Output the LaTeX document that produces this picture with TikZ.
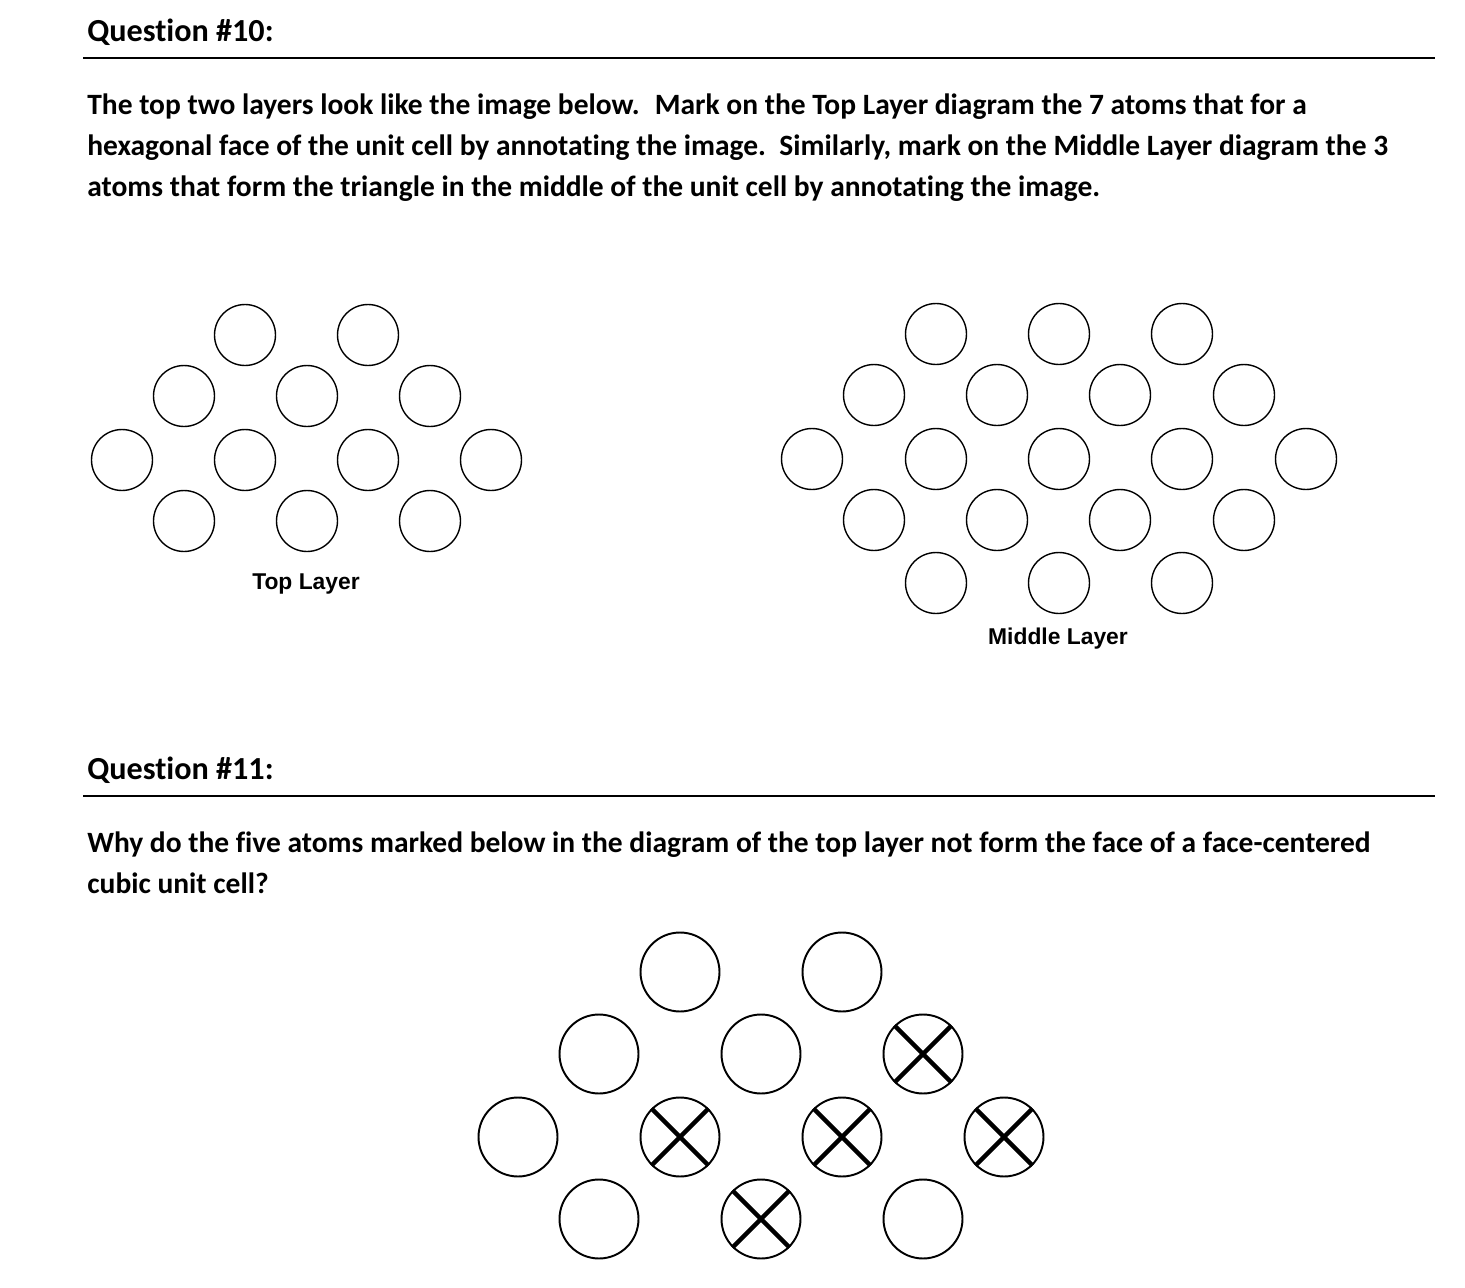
\documentclass[tikz,border=0pt]{standalone}
\usepackage{fontspec}
\setmainfont[RawFeature={-liga;-clig}]{Carlito}
\newfontfamily\labelfont{Liberation Sans}
\tikzset{
atom/.style={circle, draw, line width=0.8pt, inner sep=0pt, minimum size=1.22cm},
bigatom/.style={circle, draw, line width=1.1pt, inner sep=0pt, minimum size=1.58cm},
heading/.style={anchor=base west, inner sep=0pt, font=\fontsize{18.3}{22}\selectfont\bfseries},
bodytext/.style={anchor=base west, inner sep=0pt, font=\fontsize{16.78}{20}\selectfont\bfseries},
layerlabel/.style={anchor=base, inner sep=0pt, font=\fontsize{13}{15}\selectfont\labelfont\bfseries},
crossline/.style={line width=2.6pt}
}
\begin{document}
\begin{tikzpicture}[x=0.02cm, y=-0.02cm]
\useasboundingbox (0,0) rectangle (1465,1288);
\node[heading] (q10) at (87,41) {Question \#10:};
\coordinate (r1a) at (83,58);
\coordinate (r1b) at (1435,58);
\draw[line width=0.8pt] (r1a) -- (r1b);
\node[bodytext] (t1) at (87,114) {The top two layers look like the image below.\ \ \hspace{1pt}Mark on the Top Layer diagram the 7 atoms that for a};
\node[bodytext] (t2) at (87,155) {hexagonal face of the unit cell by annotating the image.\ \ Similarly, mark on the Middle Layer diagram the 3};
\node[bodytext] (t3) at (87,196) {atoms that form the triangle in the middle of the unit cell by annotating the image.};
% top layer
\foreach \x/\y [count=\i] in {245/335,368/335,184/396,307/396,430/396,122/460,245/460,368/460,491/460,184/521,307/521,430/521}
  \node[atom] (top\i) at (\x,\y) {};
\node[layerlabel] (toplabel) at (306,589) {Top Layer};
% middle layer
\foreach \x/\y [count=\i] in {936/334,1059/334,1182/334,874/395,997/395,1120/395,1244/395,812/459,936/459,1059/459,1182/459,1306/459,874/520,997/520,1120/520,1244/520,936/583,1059/583,1182/583}
  \node[atom] (mid\i) at (\x,\y) {};
\node[layerlabel] (midlabel) at (1058,644) {Middle Layer};
\node[heading] (q11) at (87,779) {Question \#11:};
\coordinate (r2a) at (83,796);
\coordinate (r2b) at (1435,796);
\draw[line width=0.8pt] (r2a) -- (r2b);
\node[bodytext] (t4) at (87,852.5) {Why do the five atoms marked below in the diagram of the top layer not form the face of a face-centered};
\node[bodytext] (t5) at (87,893) {cubic unit cell?};
% marked atoms
\foreach \x/\y [count=\i] in {680/972,842/972,599/1054,761/1054,923/1054,518/1137,680/1137,842/1137,1004/1137,599/1219,761/1219,923/1219}
  \node[bigatom] (big\i) at (\x,\y) {};
\foreach \i in {5,7,8,9,11} {
  \draw[crossline] (big\i.45) -- (big\i.225);
  \draw[crossline] (big\i.135) -- (big\i.315);
}
\end{tikzpicture}
\end{document}
